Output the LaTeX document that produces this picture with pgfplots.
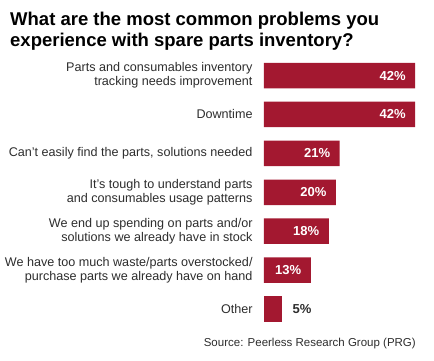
\documentclass[border=0pt]{standalone}
\usepackage{pgfplots}
\pgfplotsset{compat=1.18}
\usepackage{fontspec}
\setmainfont{Liberation Sans}
\definecolor{barred}{RGB}{163,24,48}
\definecolor{labgray}{RGB}{45,45,45}
\begin{document}
\begin{tikzpicture}
\useasboundingbox (0,0) rectangle (434pt,360pt);
\node[anchor=base west, inner sep=0pt, font=\fontsize{18.5}{21}\selectfont\bfseries, text=black] at (10pt,335pt) {What are the most common problems you};
\node[anchor=base west, inner sep=0pt, font=\fontsize{18.5}{21}\selectfont\bfseries, text=black] at (10pt,313.3pt) {experience with spare parts inventory?};
\begin{axis}[
  at={(264pt,31.6pt)}, anchor=south west,
  scale only axis, width=165.6pt, height=272.3pt,
  xmin=0, xmax=46, ymin=-0.5, ymax=6.5, y dir=reverse,
  xbar, bar width=25.5pt, bar shift=0pt,
  axis line style={draw=none}, tick style={draw=none},
  xtick=\empty, ytick={0,...,6},
  yticklabels={{Parts and consumables inventory\\tracking needs improvement},Downtime,{Can’t easily find the parts, solutions needed},{It’s tough to understand parts\\and consumables usage patterns},{We end up spending on parts and/or\\solutions we already have in stock},{We have too much waste/parts overstocked/\\purchase parts we already have on hand},Other},
  yticklabel style={font=\fontsize{12.6}{14}\selectfont, align=right, text=labgray, inner sep=0pt, xshift=-7pt},
  /pgf/number format/assume math mode=true,
  clip=false,
]
\addplot[fill=barred, draw=none, point meta=x,
  nodes near coords={\pgfmathprintnumber{\pgfplotspointmeta}\%},
  every node near coord/.append style={anchor=east, xshift=-6pt, text=white, font=\fontsize{13}{14}\selectfont\bfseries}]
  coordinates {(42,0) (42,1) (21,2) (20,3) (18,4) (13,5)};
\addplot[fill=barred, draw=none, point meta=x,
  nodes near coords={\pgfmathprintnumber{\pgfplotspointmeta}\%},
  every node near coord/.append style={anchor=west, xshift=7pt, text=labgray, font=\fontsize{13}{14}\selectfont\bfseries}]
  coordinates {(5,6)};
\end{axis}
\node[anchor=base east, inner sep=0pt, font=\fontsize{11.5}{14}\selectfont, text=labgray] at (416pt,13.3pt) {Source: Peerless Research Group (PRG)};
\end{tikzpicture}
\end{document}
